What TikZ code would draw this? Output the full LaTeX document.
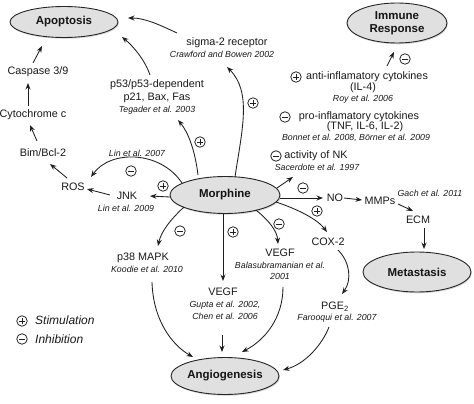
\documentclass[tikz,border=0pt]{standalone}
\usepackage{fontspec}
\setmainfont{Liberation Sans}
\usetikzlibrary{shapes.geometric,arrows.meta,shadows}
\begin{document}
\begin{tikzpicture}[x=1pt,y=-1pt,
  arr/.style={-{Stealth[length=6.5pt,width=5pt]}, line width=0.85pt, draw=black!88},
  lab/.style={font=\fontsize{10.8}{13}\selectfont, inner sep=1.5pt, text=black!90},
  refl/.style={font=\fontsize{8.8}{10.5}\selectfont\itshape, inner sep=1pt, text=black!90},
  leg/.style={font=\fontsize{12}{14}\selectfont\itshape, inner sep=0pt, anchor=west, text=black!90},
  blob/.style={ellipse, draw=black!85, line width=0.9pt, fill=black!12, align=center, inner sep=0pt,
    font=\fontsize{11.5}{13.5}\selectfont\bfseries, text=black!92,
    drop shadow={shadow xshift=0.8pt, shadow yshift=-1.3pt, opacity=0.3}},
  pm/.style={circle, draw=black!88, line width=0.75pt, minimum size=10.5pt, inner sep=0pt},
  stim/.style={pm, path picture={
     \draw[line width=0.75pt] ([xshift=2.4pt]path picture bounding box.west) -- ([xshift=-2.4pt]path picture bounding box.east);
     \draw[line width=0.75pt] ([yshift=-2.4pt]path picture bounding box.north) -- ([yshift=2.4pt]path picture bounding box.south);}},
  inhib/.style={pm, path picture={
     \draw[line width=0.75pt] ([xshift=2.4pt]path picture bounding box.west) -- ([xshift=-2.4pt]path picture bounding box.east);}},
]
\fill[white] (0,0) rectangle (474,404);
\useasboundingbox (0,0) rectangle (474,404);

% main ellipses
\node[blob, minimum width=108pt, minimum height=31pt] (apop) at (64,22) {Apoptosis};
\node[blob, minimum width=100pt, minimum height=40pt] (immune) at (397,23) {Immune\\Response};
\node[blob, minimum width=110pt, minimum height=37pt] (morph) at (225,195) {Morphine};
\node[blob, minimum width=108pt, minimum height=40pt] (meta) at (417,272) {Metastasis};
\node[blob, minimum width=108pt, minimum height=37pt] (angio) at (225,376) {Angiogenesis};

% left branch
\node[lab] (casp) at (38,72) {Caspase 3/9};
\node[lab] (cyto) at (33,115) {Cytochrome c};
\node[lab] (bim) at (43,153) {Bim/Bcl-2};
\node[lab] (ros) at (73,187) {ROS};
\node[lab] (jnk) at (127,196) {JNK};
\node[refl] (jnkref) at (126,208) {Lin et al. 2009};
\node[refl] (lin07) at (137,153) {Lin et al. 2007};

% top branch
\node[lab] (p53) at (157,85) {p53/p53-dependent};
\node[lab] (p21) at (157,98) {p21, Bax, Fas};
\node[refl] (teg) at (157,110) {Tegader et al. 2003};
\node[lab] (sigma) at (227,43) {sigma-2 receptor};
\node[refl] (craw) at (222,54) {Crawford and Bowen 2002};

% immune branch
\node[stim] (antic) at (296,77) {};
\node[lab] (anti) at (367,77) {anti-inflamatory cytokines};
\node[lab] (il4) at (363,88) {(IL-4)};
\node[refl] (roy) at (363,99) {Roy et al. 2006};
\node[inhib] (immc) at (405,59) {};
\node[inhib] (proc) at (285,117) {};
\node[lab] (pro) at (359,117) {pro-inflamatory cytokines};
\node[lab] (tnf) at (365,127) {(TNF, IL-6, IL-2)};
\node[refl] (bonnet) at (356,138) {Bonnet et al. 2008, Börner et al. 2009};
\node[inhib] (nkc) at (276,156) {};
\node[lab] (nk) at (316,156) {activity of NK};
\node[refl] (sacer) at (317,167) {Sacerdote et al. 1997};

% right branch
\node[lab] (no) at (335,198) {NO};
\node[lab] (mmps) at (380,201) {MMPs};
\node[refl] (gach) at (430,193) {Gach et al. 2011};
\node[lab] (ecm) at (418,220) {ECM};
\node[lab] (cox) at (328,242) {COX-2};
\node[lab] (pge) at (335,307) {PGE\textsubscript{2}};
\node[refl] (faro) at (337,318) {Farooqui et al. 2007};

% bottom branch
\node[lab] (vegfb) at (280,253) {VEGF};
\node[refl] (balas) at (280,265) {Balasubramanian et al.};
\node[refl] (bal01) at (280,276) {2001};
\node[lab] (vegfg) at (223,292) {VEGF};
\node[refl] (gupta) at (225,305) {Gupta et al. 2002,};
\node[refl] (chen) at (225,316) {Chen et al. 2006};
\node[lab] (p38) at (143,258) {p38 MAPK};
\node[refl] (koodie) at (147,269) {Koodie et al. 2010};

% effect signs on connectors
\node[stim] (s1) at (200,142) {};
\node[stim] (s2) at (253,103) {};
\node[stim] (s3) at (163,186) {};
\node[inhib] (s4) at (131,171) {};
\node[inhib] (s5) at (180,231) {};
\node[stim] (s6) at (233,232) {};
\node[inhib] (s7) at (279,224) {};
\node[stim] (s8) at (317,211) {};
\node[inhib] (s9) at (303,188) {};

% legend
\node[stim] (lgp) at (22,321) {};
\node[leg] (lgpt) at (35,320) {Stimulation};
\node[inhib] (lgm) at (22,339) {};
\node[leg] (lgmt) at (35,339) {Inhibition};

% connectors
\draw[arr] ([shift={(-5,-9)}]casp.center) -- ([shift={(-22,24)}]apop.center);
\draw[arr] ([shift={(-5,-9)}]cyto.center) -- ([shift={(-10,11)}]casp.center);
\draw[arr] ([shift={(-6,-12)}]bim.center) -- ([shift={(-3,10)}]cyto.center);
\draw[arr] ([shift={(-6,-9)}]ros.center) -- ([shift={(7,11)}]bim.center);
\draw[arr] ([shift={(-17,-1)}]jnk.center) -- ([shift={(14,2)}]ros.center);
\draw[arr] ([shift={(-55,2)}]morph.center) -- ([shift={(23,0)}]jnk.center);
\draw[arr] ([shift={(-43,-12)}]morph.center) .. controls (160,150) and (110,150) .. ([shift={(18,-10)}]ros.center);
\draw[arr] ([shift={(-41,12)}]morph.center) .. controls (170,220) and (161,232) .. ([shift={(15,-12)}]p38.center);
\draw[arr] ([shift={(-2,19)}]morph.center) -- ([shift={(0,-11)}]vegfg.center);
\draw[arr] ([shift={(31,15)}]morph.center) .. controls (268,220) and (277,230) .. ([shift={(-2,-9)}]vegfb.center);
\draw[arr] ([shift={(51,7)}]morph.center) .. controls (300,210) and (318,220) .. ([shift={(-1,-10)}]cox.center);
\draw[arr] ([shift={(55,3)}]morph.center) -- ([shift={(-12,0)}]no.center);
\draw[arr] ([shift={(52,-7)}]morph.center) -- ([shift={(-23,21)}]nk.center);
\draw[arr] ([shift={(9,0)}]no.center) -- ([shift={(-18,-1)}]mmps.center);
\draw[arr] ([shift={(18,3)}]mmps.center) -- ([shift={(-5,-9)}]ecm.center);
\draw[arr] ([shift={(6,8)}]ecm.center) -- ([shift={(7,-23)}]meta.center);
\draw[arr] ([shift={(10,8)}]cox.center) .. controls (350,262) and (352,280) .. ([shift={(7,-13)}]pge.center);
\draw[arr] ([shift={(-8,9)}]faro.center) .. controls (322,345) and (305,364) .. ([shift={(58,-6)}]angio.center);
\draw[arr] ([shift={(3,11)}]bal01.center) .. controls (283,318) and (265,340) .. ([shift={(17,-24)}]angio.center);
\draw[arr] ([shift={(-3,19)}]chen.center) -- ([shift={(-3,-24)}]angio.center);
\draw[arr] ([shift={(5,13)}]koodie.center) .. controls (153,320) and (172,345) .. ([shift={(-32,-19)}]angio.center);
\draw[arr] ([shift={(-7,-10)}]p53.center) .. controls (145,60) and (133,46) .. ([shift={(58,15)}]apop.center);
\draw[arr] ([shift={(-50,-10)}]sigma.center) .. controls (160,25) and (145,18) .. ([shift={(64,-4)}]apop.center);
\draw[arr] ([shift={(-27,-20)}]morph.center) .. controls (195,150) and (188,132) .. ([shift={(21,10)}]teg.center);
\draw[arr] ([shift={(10,-18)}]morph.center) .. controls (242,130) and (252,92) .. ([shift={(5,13)}]craw.center);
\draw[arr] ([shift={(20,-11)}]anti.center) -- ([shift={(-3,29)}]immune.center);
\end{tikzpicture}
\end{document}
